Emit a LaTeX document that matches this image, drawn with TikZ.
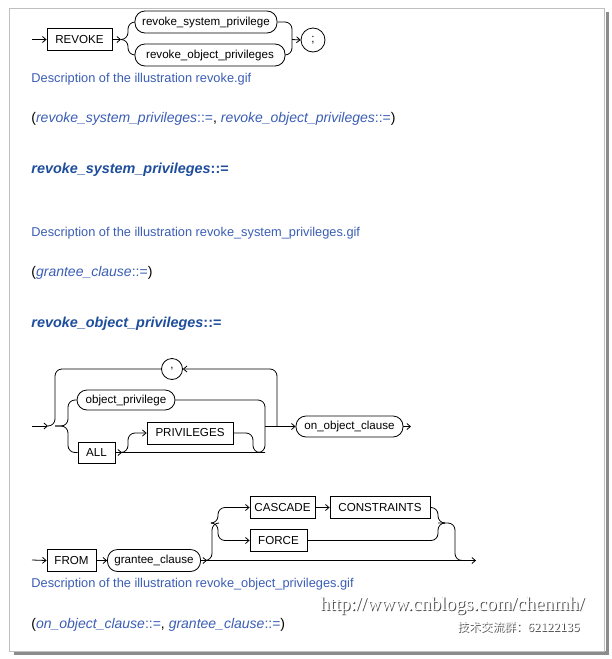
\documentclass[tikz,border=0pt]{standalone}
\usepackage{fontspec}
\setmainfont{Liberation Sans}
\newfontfamily\serifwm{Liberation Serif}
\newfontfamily\cjk{Noto Sans CJK SC}
\usetikzlibrary{arrows.meta}
\definecolor{linkblue}{HTML}{3B5EB5}
\definecolor{headblue}{HTML}{1F4E9C}
\begin{document}
\begin{tikzpicture}[x=1pt,y=-1pt,
  line width=0.8pt,
  >={Straight Barb[length=3.5pt,width=6pt]},
  kw/.style={draw,rectangle,minimum height=22pt,inner sep=1pt,font=\fontsize{11.6}{12}\selectfont},
  nt/.style={draw,rounded corners=10pt,minimum height=22pt,inner sep=1pt,font=\fontsize{11.6}{12}\selectfont},
  circ/.style={draw,circle,minimum size=24pt,inner sep=0pt,font=\fontsize{11.6}{12}\selectfont},
  rc/.style={rounded corners=7pt},
  desc/.style={anchor=west,inner sep=0pt,text=linkblue,font=\fontsize{12.8}{14}\selectfont},
  para/.style={anchor=west,inner sep=0pt,font=\fontsize{14}{16}\selectfont},
  head/.style={anchor=west,inner sep=0pt,text=headblue,font=\bfseries\itshape\fontsize{14.4}{16}\selectfont}]
\useasboundingbox (0,0) rectangle (612,659);
\fill[white] (0,0) rectangle (612,659);
\fill[black!45] (606,12) rectangle (609,655);
\fill[black!45] (14,651) rectangle (609,655);
\draw[black!25,line width=0.6pt] (9,8) rectangle (604,651);

% ---- diagram 1
\coordinate (a0) at (32,39.5);
\node[kw,minimum width=65pt] (revoke) at (79.5,39.5) {REVOKE};
\node[nt,minimum width=142pt] (rsp) at (206,22) {revoke\_system\_privilege};
\node[nt,minimum width=150pt] (rop) at (210,55) {revoke\_object\_privileges};
\node[circ] (semi) at (313,40) {;};
\coordinate (b1) at (121,39.5);
\coordinate (j1) at (292,39.5);
\draw[->] (a0) -- (revoke.west);
\draw[->] (revoke.east) -- (b1);
\draw[rc] (b1) -- (128,39.5) |- (rsp.west);
\draw[rc] (b1) -- (128,39.5) |- (rop.west);
\draw[rc] (rsp.east) -| (j1);
\draw[rc] (rop.east) -| (j1);
\draw[->] (j1) -- (semi.west);
\node[desc] (d1) at (31,79) {Description of the illustration revoke.gif};

\node[para] (p1) at (31,119) {(\textcolor{linkblue}{\itshape revoke\_system\_privileges\upshape::=}, \textcolor{linkblue}{\itshape revoke\_object\_privileges\upshape::=})};
\node[head] (h1) at (31,170) {revoke\_system\_privileges\upshape::=};
\node[desc] (d2) at (31,233) {Description of the illustration revoke\_system\_privileges.gif};
\node[para] (p2) at (31,273) {(\textcolor{linkblue}{\itshape grantee\_clause\upshape::=})};
\node[head] (h2) at (31,324) {revoke\_object\_privileges\upshape::=};

% ---- diagram 2
\coordinate (c0) at (32,426);
\coordinate (c1) at (48,426);
\node[circ,minimum size=21pt] (comma) at (172,369) {,};
\node[nt,minimum width=98pt,minimum height=20pt] (objp) at (126,400) {object\_privilege};
\node[kw,minimum width=37pt,minimum height=21pt] (all) at (96.5,452.5) {ALL};
\node[kw,minimum width=86pt,minimum height=22pt] (priv) at (190,433) {PRIVILEGES};
\node[nt,minimum width=107pt,minimum height=21pt] (onobj) at (349.5,426.5) {on\_object\_clause};
\coordinate (e2) at (411,426.5);
\draw[->] (c0) -- (c1);
\draw[rc] (c1) -- (55,426) -- (55,369) -- (comma.west);
\draw[rc,->] (277,426.5) -- (277,369) -- (comma.east);
\draw[rc] (55,426) -- (68,426) |- (objp.west);
\draw[rc] (55,426) -- (68,426) |- (all.west);
\draw[rc] (objp.east) -- (265,400) -- (265,426.5);
\draw[->] (all.east) -- (122,452.5);
\draw[rc] (121,452.5) -- (265,452.5) -- (265,426.5);
\draw[rc,->] (121,452.5) -- (128,452.5) |- (priv.west);
\draw[rc] (priv.east) -- (253,433) |- (265,452.5);
\draw[->] (265,426.5) -- (onobj.west);
\draw[->] (onobj.east) -- (e2);

% ---- diagram 3
\coordinate (f0) at (32,560);
\node[kw,minimum width=49pt] (from) at (71.5,560.5) {FROM};
\node[nt,minimum width=93pt] (gc) at (154,560.5) {grantee\_clause};
\node[kw,minimum width=65pt] (casc) at (282.5,507.5) {CASCADE};
\node[kw,minimum width=100pt] (cons) at (380,507.5) {CONSTRAINTS};
\node[kw,minimum width=57pt] (force) at (278.5,540.5) {FORCE};
\coordinate (f9) at (476,560.5);
\draw[->] (f0) -- (from.west);
\draw[->] (from.east) -- (gc.west);
\draw[->] (gc.east) -- (207,560.5);
\draw (206,560.5) -- (f9);
\draw[->] (470,560.5) -- (f9);
\draw[rc] (206,560.5) -- (212,560.5) -- (212,523) -- (218,523);
\draw[rc,->] (212,523) -- (218,523) |- (casc.west);
\draw[rc,->] (212,523) -- (218,523) |- (force.west);
\draw[->] (casc.east) -- (cons.west);
\draw[rc] (cons.east) -- (438,507.5) |- (445,523);
\draw[rc] (force.east) -- (438,540.5) |- (445,523);
\draw[rc] (438,523) -- (455,523) -- (455,560.5) -- (465,560.5);
\node[desc] (d3) at (31,584) {Description of the illustration revoke\_object\_privileges.gif};
\node[para] (p3) at (31,625) {(\textcolor{linkblue}{\itshape on\_object\_clause\upshape::=}, \textcolor{linkblue}{\itshape grantee\_clause\upshape::=})};

% ---- watermark
\node[anchor=west,inner sep=0pt,text=black!70,font=\serifwm\fontsize{19.5}{20}\selectfont] at (321,607) {http://www.cnblogs.com/chenmh/};
\node[anchor=west,inner sep=0pt,text=white,font=\serifwm\fontsize{19.5}{20}\selectfont] (wm1) at (320,606) {http://www.cnblogs.com/chenmh/};
\node[anchor=west,inner sep=0pt,text=black!70,font=\cjk\fontsize{11.7}{12}\selectfont] at (458,628) {技术交流群：62122135};
\node[anchor=west,inner sep=0pt,text=white,font=\cjk\fontsize{11.7}{12}\selectfont] (wm2) at (457,627) {技术交流群：62122135};
\end{tikzpicture}
\end{document}
